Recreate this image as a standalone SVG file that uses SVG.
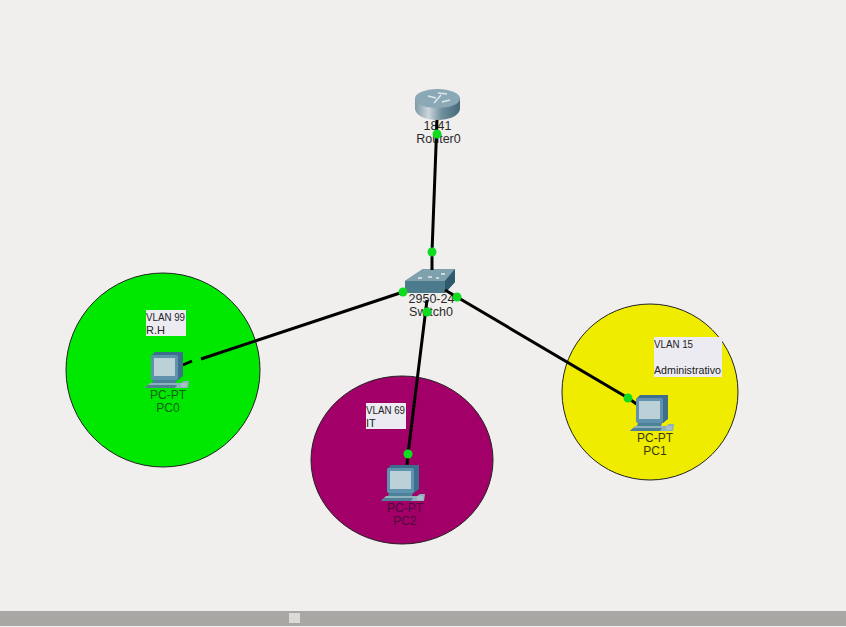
<svg xmlns="http://www.w3.org/2000/svg" width="846" height="627" viewBox="0 0 846 627">
<style>
.lbl{font-family:"Liberation Sans",Arial,sans-serif;font-size:11px;fill:#222}
.dev{font-family:"Liberation Sans",Arial,sans-serif;font-size:12.500px;text-anchor:middle;fill:#2a2a2a}
.pct{font-size:12px}
.zone{stroke:#222;stroke-width:1}
.note{fill:#ecebf2}
.link{stroke:#000;stroke-width:3;fill:none}
.dot{fill:#0fdc1e}
</style>
<defs>
<linearGradient id="rt" x1="0" x2="1" y1="0" y2="0"><stop offset="0" stop-color="#7f9aa6"/><stop offset=".3" stop-color="#c9d6da"/><stop offset=".6" stop-color="#6e8e9c"/><stop offset="1" stop-color="#456878"/></linearGradient>
<g id="pc">
<path d="M0,4 L4,0 L32,0 L32,24 L27,28 L1,28 Z" fill="#3d6f8c"/>
<rect x="0" y="3" width="27" height="25" rx="2" fill="#5f93ad"/>
<rect x="3" y="6" width="21" height="18" fill="#bcd0d8"/>
<path d="M2,28 L26,28 L25,31 L1,31 Z" fill="#4d8199"/>
<path d="M-1,31 L30,31 L33,29 L38,29 L37,36 L-6,36 Z" fill="#8fb0bd"/>
<path d="M-3,33 L26,33 L24,36 L-6,36 Z" fill="#4f7f94"/>
<rect x="30" y="31" width="6" height="4" fill="#a9bfc8"/>
</g>
</defs>
<rect width="846" height="627" fill="#f0efed"/>
<rect y="611" width="846" height="15" fill="#a9a7a3"/>
<rect x="289" y="613" width="11" height="10" fill="#dcdad6"/>
<g id="zones">
<ellipse id="zone-rh" class="zone" cx="163" cy="370" rx="97" ry="97" fill="#00e800"/>
<ellipse id="zone-it" class="zone" cx="402" cy="460" rx="91" ry="84" fill="#a20068"/>
<ellipse id="zone-admin" class="zone" cx="650" cy="392" rx="88" ry="88" fill="#f0ec00"/>
</g>
<g id="notes">
<g id="note-99"><rect class="note" x="146" y="310" width="40" height="26"/><text class="lbl" x="146" y="321" textLength="39" lengthAdjust="spacingAndGlyphs">VLAN 99</text><text class="lbl" x="146" y="334">R.H</text></g>
<g id="note-69"><rect class="note" x="366" y="403" width="40" height="26"/><text class="lbl" x="366" y="414" textLength="39" lengthAdjust="spacingAndGlyphs">VLAN 69</text><text class="lbl" x="366" y="427">IT</text></g>
<g id="note-15"><rect class="note" x="654" y="337" width="68" height="40"/><text class="lbl" x="654" y="348" textLength="39" lengthAdjust="spacingAndGlyphs">VLAN 15</text><text class="lbl" x="654" y="374" textLength="67" lengthAdjust="spacingAndGlyphs">Administrativo</text></g>
</g>
<g id="router0">
<path d="M415,98 V108 C415,124 460,124 460,108 V98 Z" fill="url(#rt)"/>
<ellipse cx="437.500" cy="98.500" rx="22.500" ry="9.500" fill="#8aa8b5"/>
<path d="M428,96 L436,98 M442,102 L450,100 M434,103 L441,95 M438,93 L447,94" stroke="#dfe8ea" stroke-width="1.500" fill="none"/>
<text class="dev" x="437.500" y="130">1841</text><text class="dev" x="438.500" y="143">Router0</text>
</g>
<g id="switch0">
<path d="M405,281 L423,269 L455,269 L455,282 L445,293 L405,293 Z" fill="#4d7b8e"/>
<path d="M405,281 L423,269 L455,269 L445,281 Z" fill="#7fa0ad"/>
<path d="M445,281 L455,269 L455,282 L445,293 Z" fill="#2f5a6c"/>
<path d="M418,278 h4 M441,274 h4 M428,277 h4 M436,278 h3" stroke="#e4ecee" stroke-width="1.500"/>
<text class="dev" x="431.500" y="303">2950-24</text><text class="dev" x="431" y="316">Switch0</text>
</g>
<g id="connectors">
<path class="link" d="M437,120 L432,252 L432,270"/>
<path class="link" d="M403,292 L201,359 M192,361 L183,365"/>
<path class="link" d="M427,300 L408,454 L407,465"/>
<path class="link" d="M445,290 L628,398 L638,405"/>
</g>
<g id="pc0"><use href="#pc" x="151" y="352"/><text class="dev pct" x="168" y="399" style="fill:#0f5f14">PC-PT</text><text class="dev pct" x="168" y="412" style="fill:#0f5f14">PC0</text></g>
<g id="pc2"><use href="#pc" x="387" y="465"/><text class="dev pct" x="405" y="512" style="fill:#4a0c38">PC-PT</text><text class="dev pct" x="405" y="525" style="fill:#4a0c38">PC2</text></g>
<g id="pc1"><use href="#pc" x="636" y="395"/><text class="dev pct" x="655" y="442" style="fill:#3a3a10">PC-PT</text><text class="dev pct" x="655" y="455" style="fill:#3a3a10">PC1</text></g>
<g id="link-lights">
<circle class="dot" cx="437" cy="134" r="4.500"/>
<circle class="dot" cx="432" cy="252" r="4.500"/>
<circle class="dot" cx="403" cy="292" r="4.500"/>
<circle class="dot" cx="457" cy="297" r="4.500"/>
<circle class="dot" cx="427" cy="312" r="4.500"/>
<circle class="dot" cx="408" cy="454" r="4.500"/>
<circle class="dot" cx="628" cy="398" r="4.500"/>
</g>
</svg>
